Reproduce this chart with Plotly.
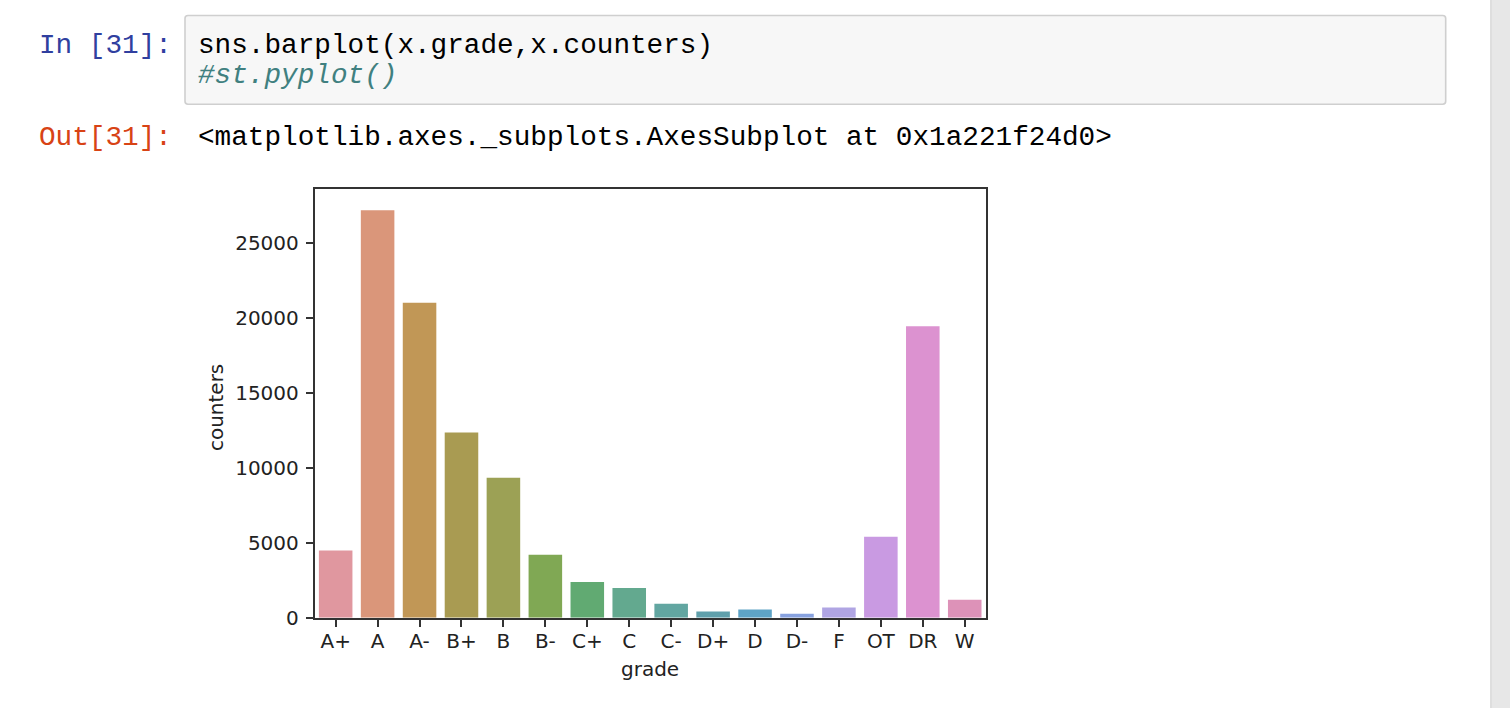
import plotly.graph_objects as go

# ---------------- data ----------------
grades = ["A+", "A", "A-", "B+", "B", "B-", "C+", "C", "C-", "D+", "D", "D-", "F", "OT", "DR", "W"]
counters = [4480, 27150, 21000, 12350, 9330, 4210, 2390, 1990, 940, 420, 550, 280, 680, 5400, 19420, 1200]
y_tick_values = [0, 5000, 10000, 15000, 20000, 25000]
y_tick_labels = ["0", "5000", "10000", "15000", "20000", "25000"]

code_line1 = "sns.barplot(x.grade,x.counters)"
code_line2 = "#st.pyplot()"
out_text = "<matplotlib.axes._subplots.AxesSubplot at 0x1a221f24d0>"
in_prompt = "In [31]:"
out_prompt = "Out[31]:"

# bar colours (seaborn husl palette, desaturated)
bar_colors = ["#e0979f", "#da967a", "#c19756", "#a99b52", "#9ca155", "#80a854",
              "#61aa72", "#63a98f", "#62a6a1", "#60a0ab", "#5ea3c6", "#88a2df",
              "#b0a5e3", "#c99ae2", "#dc92d0", "#dd92b8"]

# ---------------- geometry (page pixels of the 1510x720 picture) ----------------
W, H = 1510, 720
ax_l, ax_r, ax_t, ax_b = 314.7, 985.7, 192.7, 628.3


def px(x):
    return x / W


def py(y):
    return 1 - y / H


fig = go.Figure()
fig.add_trace(go.Bar(
    x=grades, y=counters, width=0.8,
    marker=dict(color=bar_colors, line=dict(width=0)),
    hoverinfo="x+y", showlegend=False,
))

spine = "#333333"
fig.update_layout(
    width=W, height=H,
    margin=dict(l=0, r=0, t=0, b=0, pad=0),
    paper_bgcolor="white", plot_bgcolor="white",
    xaxis=dict(
        domain=[px(ax_l), px(ax_r)], range=[-0.5, len(grades) - 0.5],
        type="category", categoryorder="array", categoryarray=grades,
        showline=True, mirror=True, linecolor=spine, linewidth=1.8,
        ticks="outside", ticklen=7, tickwidth=1.6, tickcolor=spine,
        showgrid=False, zeroline=False, ticklabelstandoff=-3,
        tickfont=dict(family="DejaVu Sans", size=20, color="#222222"),
    ),
    yaxis=dict(
        domain=[py(ax_b), py(ax_t)], range=[0, 28540],
        tickvals=y_tick_values, ticktext=y_tick_labels,
        showline=True, mirror=True, linecolor=spine, linewidth=1.8,
        ticks="outside", ticklen=7, tickwidth=1.6, tickcolor=spine,
        showgrid=False, zeroline=False, ticklabelstandoff=3,
        tickfont=dict(family="DejaVu Sans", size=20, color="#222222"),
    ),
    bargap=0.2,
)

# notebook decorations
r = 3.0
x0, x1, y0, y1 = 185.0, 1445.7, 15.7, 106.0
rx, ry = r / W, r / H
X0, X1, Y0, Y1 = px(x0), px(x1), py(y0), py(y1)
path = (f"M {X0+rx},{Y0} L {X1-rx},{Y0} Q {X1},{Y0} {X1},{Y0-ry} "
        f"L {X1},{Y1+ry} Q {X1},{Y1} {X1-rx},{Y1} L {X0+rx},{Y1} "
        f"Q {X0},{Y1} {X0},{Y1+ry} L {X0},{Y0-ry} Q {X0},{Y0} {X0+rx},{Y0} Z")
fig.add_shape(type="path", path=path, xref="paper", yref="paper",
              fillcolor="#f7f7f7", line=dict(color="#cfcfcf", width=1.6), layer="below")
fig.add_shape(type="rect", xref="paper", yref="paper", x0=px(1490), x1=1, y0=0, y1=1,
              fillcolor="#e7e7e7", line=dict(width=0), layer="below")
fig.add_shape(type="rect", xref="paper", yref="paper", x0=px(1490), x1=px(1492), y0=0, y1=1,
              fillcolor="#dedede", line=dict(width=0), layer="below")

mono = "Liberation Mono"
fs = 27.7


def text(x, y, s, color="#000000", size=fs, family=mono, xanchor="left", italic=False, angle=0):
    fig.add_annotation(
        x=px(x), y=py(y), xref="paper", yref="paper", text=s, showarrow=False,
        xanchor=xanchor, yanchor="middle", textangle=angle,
        font=dict(family=family, size=size, color=color, style="italic" if italic else "normal"),
    )


text(37, 46, in_prompt, color="#303F9F")
text(196, 46, code_line1)
text(196, 77, code_line2, color="#408080", italic=True)
text(37, 140, out_prompt, color="#D84315")
text(196, 140, out_text)

text(216, 415, "counters", color="#222222", size=20, family="DejaVu Sans", xanchor="center", angle=-90)
text((ax_l + ax_r) / 2, 680, "grade", color="#222222", size=20, family="DejaVu Sans", xanchor="center")

fig.write_html(
    "out.html",
    config={"displayModeBar": False},
    post_script=("document.documentElement.style.overflow='hidden';"
                 "document.body.style.margin='0';document.body.style.overflow='hidden';"),
)
